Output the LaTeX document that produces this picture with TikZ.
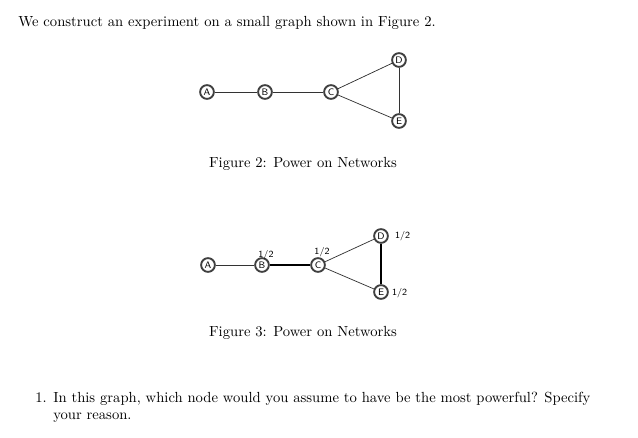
\documentclass[tikz,border=0pt]{standalone}
\begin{document}
\begin{tikzpicture}[x=0.69pt,y=-0.69pt,
  gn/.style={circle,draw=black!75,line width=1.3pt,inner sep=0pt,minimum size=9.5pt,font=\sffamily\fontsize{6.5}{6.5}\selectfont},
  ed/.style={draw=black!80,line width=0.5pt},
  hed/.style={draw=black,line width=1.6pt},
  wl/.style={font=\sffamily\fontsize{6.5}{6.5}\selectfont},
  txt/.style={anchor=base west,inner sep=0pt,font=\fontsize{10.1}{12}\selectfont}]
\useasboundingbox (0,0) rectangle (638,438);
\node[txt] (t1) at (18,27) {We construct an experiment on a small graph shown in Figure 2.};
% Figure 2
\node[gn] (A) at (207,92) {A};
\node[gn] (B) at (265,92) {B};
\node[gn] (C) at (331,92) {C};
\node[gn] (D) at (399,60) {D};
\node[gn] (E) at (399,121) {E};
\draw[ed] (A)--(B); \draw[ed] (B)--(C); \draw[ed] (C)--(D); \draw[ed] (C)--(E); \draw[ed] (D)--(E);
\node[txt,anchor=base] (c2) at (303,168) {Figure 2: Power on Networks};
% Figure 3
\node[gn] (A3) at (208,265) {A};
\node[gn] (B3) at (262,265) {B};
\node[gn] (C3) at (318,265) {C};
\node[gn] (D3) at (381,236) {D};
\node[gn] (E3) at (381,292) {E};
\draw[ed] (A3)--(B3); \draw[hed] (B3)--(C3); \draw[ed] (C3)--(D3); \draw[ed] (C3)--(E3); \draw[hed] (D3)--(E3);
\node[wl] (lb) at (266,255) {1/2};
\node[wl] (lc) at (322,252) {1/2};
\node[wl,anchor=west] (ld) at (390,236) {1/2};
\node[wl,anchor=west] (le) at (387,293) {1/2};
\node[txt,anchor=base] (c3) at (303,337) {Figure 3: Power on Networks};
\node[txt] (n1) at (35,403) {1.};
\node[txt] (q1) at (53,403) {In this graph, which node would you assume to have be the most powerful? Specify};
\node[txt] (q2) at (53,420) {your reason.};
\end{tikzpicture}
\end{document}
